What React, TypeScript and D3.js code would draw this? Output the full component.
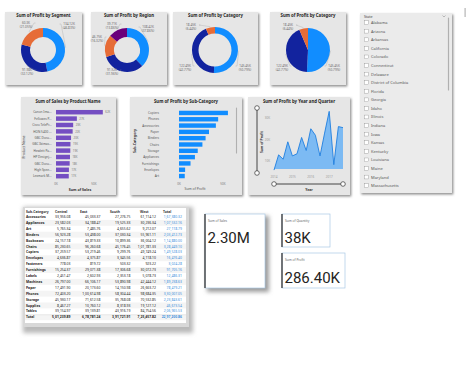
import React from 'react';
import * as d3 from 'd3';

// ---------- DATA ----------
const segments = ['Consumer', 'Corporate', 'Home Office'];
const segmentProfit = [134119.21, 91979.13, 60298.68];

const regions = ['West', 'East', 'South', 'Central'];
const regionProfit = [108418.45, 91522.78, 46749.43, 39706.36];

const categories = ['Technology', 'Office Supplies', 'Furniture'];
const categoryProfit = [145454.95, 122490.8, 18451.27];

const productNames = ['Canon Ima...', 'Fellowes P...', 'Cisco TelePr...', 'HON 5400 ...', 'GBC Docu...', 'GBC Ibimas...', 'Hewlett Pa...', 'HP Designj...', 'GBC Docu...', 'High Spee...', 'Lexmark M...'];
const productSales = [61.6, 27.45, 22.6, 21.9, 19.8, 19.0, 18.8, 18.4, 18.0, 17.0, 16.8];

const subCats = ['Copiers', 'Phones', 'Accessories', 'Paper', 'Binders', 'Chairs', 'Storage', 'Appliances', 'Furnishings', 'Envelopes', 'Art'];
const subCatProfit = [55.6, 44.5, 41.9, 34.1, 30.2, 26.6, 21.3, 18.1, 13.1, 6.96, 6.53];

const quarters = ['2014Q1', '2014Q2', '2014Q3', '2014Q4', '2015Q1', '2015Q2', '2015Q3', '2015Q4', '2016Q1', '2016Q2', '2016Q3', '2016Q4', '2017Q1', '2017Q2', '2017Q3', '2017Q4'];
const quarterProfit = [6, 13, 11, 19, 12.5, 13.5, 21, 15, 25, 22, 12.5, 23, 33, 8.5, 26, 25.5];
const yearTicks = ['2014', '2015', '2016', '2017'];
const profitTicks = [10, 20, 30];

const states = ['Alabama', 'Arizona', 'Arkansas', 'California', 'Colorado', 'Connecticut', 'Delaware', 'District of Columbia', 'Florida', 'Georgia', 'Idaho', 'Illinois', 'Indiana', 'Iowa', 'Kansas', 'Kentucky', 'Louisiana', 'Maine', 'Maryland', 'Massachusetts'];

const tableHeaders = ['Sub-Category', 'Central', 'East', 'South', 'West', 'Total'];
const tableCats = ['Accessories', 'Appliances', 'Art', 'Binders', 'Bookcases', 'Chairs', 'Copiers', 'Envelopes', 'Fasteners', 'Furnishings', 'Labels', 'Machines', 'Paper', 'Phones', 'Storage', 'Supplies', 'Tables', 'Total'];
const centralSales = [33956.08, 23582.03, 5765.34, 56923.28, 24157.18, 85230.65, 37259.57, 4636.87, 778.03, 15254.37, 2451.47, 26797.0, 17491.9, 72403.2, 45930.17, 8467.27, 39154.97, 501239.89];
const eastSales = [45033.37, 34188.47, 7485.76, 53498.0, 43819.33, 96260.68, 53219.46, 4375.87, 819.72, 29071.38, 2602.93, 66106.17, 20173.6, 100614.98, 71612.58, 10760.12, 39139.81, 678781.24];
const southSales = [27276.75, 19525.33, 4655.62, 37030.34, 10899.36, 45176.45, 9299.76, 3345.56, 503.32, 17306.68, 2353.18, 53890.98, 14150.98, 58304.44, 35768.08, 8318.93, 43916.19, 391721.91];
const westSales = [61114.12, 30236.34, 9212.07, 55961.11, 36004.12, 101781.33, 49749.24, 4118.1, 923.22, 30072.73, 5078.73, 42444.12, 26663.72, 98684.35, 70532.85, 19127.12, 84754.56, 725457.82];
const totalSales = [167380.32, 107532.16, 27118.79, 203412.73, 114880.0, 328449.1, 149528.03, 16476.4, 3024.28, 91705.16, 12486.31, 189238.63, 78479.21, 330007.05, 223843.61, 46673.54, 206965.53, 2297200.86];

const kpiSales = 2.3; // M
const kpiQuantity = 38; // K
const kpiProfit = 286.4; // K

// ---------- STYLE ----------
const FONT = "'Noto Sans', 'Open Sans', sans-serif";
const KFONT = "Roboto, 'Noto Sans', sans-serif";
const C_LIGHT = '#118DFF';
const C_DARK = '#12239E';
const C_ORANGE = '#E66C37';
const C_PURPLE = '#6B007B';
const C_BAR = '#744EC2';
const PANEL = '#e6e6e6';

function fmtIN(v: number) {
  const [i, d] = v.toFixed(2).split('.');
  let last3 = i.slice(-3);
  let rest = i.slice(0, -3);
  if (rest) last3 = ',' + last3;
  rest = rest.replace(/\B(?=(\d{2})+(?!\d))/g, ',');
  return rest + last3 + '.' + d;
}

function fmtK(v: number) {
  const s = (v / 1000).toFixed(2).replace(/0+$/, '').replace(/\.$/, '');
  return s + 'K';
}

function Panel({ x, y, w, h, fill = PANEL }: any) {
  return (
    <g>
      <rect x={x + 1.3} y={y + 1.5} width={w} height={h} fill="#8f8f8f" filter="url(#sh)" />
      <rect x={x} y={y} width={w} height={h} fill={fill} />
    </g>
  );
}

function Title({ x, y, text }: any) {
  return (
    <text x={x} y={y} textAnchor="middle" fontFamily={FONT} fontWeight={700} fontSize={4.3} fill="#252423">
      {text}
    </text>
  );
}

function Donut({ cx, cy, values, colors, rOuter, rInner, labelPos, single }: any) {
  const total = d3.sum(values as number[]);
  const arcs = d3.pie<number>().sort(null).value((d) => d)(values);
  const arc = d3.arc<any>().outerRadius(rOuter).innerRadius(rInner);
  return (
    <g transform={`translate(${cx},${cy})`}>
      {arcs.map((a, i) => (
        <path key={i} d={arc(a) as string} fill={colors[i]} />
      ))}
      {arcs.map((a, i) => {
        const mid = (a.startAngle + a.endAngle) / 2;
        const [dx, dy] = labelPos[i];
        const sx = Math.sin(mid) * (rOuter + 0.8);
        const sy = -Math.cos(mid) * (rOuter + 0.8);
        const side = dx < 0 ? 1 : -1;
        const ex = dx + side * (single ? 13 : 8);
        const ey = dy - 1;
        const val = fmtK(values[i]);
        const pct = '(' + ((values[i] / total) * 100).toFixed(2) + '%)';
        return (
          <g key={'l' + i}>
            <polyline points={`${sx},${sy} ${ex},${ey} ${ex + side * 1.5},${ey}`} fill="none" stroke="#9a9a9a" strokeWidth={0.3} />
            {single ? (
              <text x={dx} y={dy} textAnchor="middle" fontFamily={FONT} fontSize={3.1} fill="#666">{val + ' ' + pct}</text>
            ) : (
              <g>
                <text x={dx} y={dy} textAnchor="middle" fontFamily={FONT} fontSize={3.1} fill="#666">{val}</text>
                <text x={dx} y={dy + 4} textAnchor="middle" fontFamily={FONT} fontSize={3.1} fill="#666">{pct}</text>
              </g>
            )}
          </g>
        );
      })}
    </g>
  );
}

export default function App() {
  // Product bar chart
  const px = d3.scaleLinear().domain([0, 50]).range([56, 94]);
  const py = d3.scaleBand<string>().domain(productNames.map((d, i) => i + d)).range([109, 179.4]).paddingInner(0.3).paddingOuter(0.15);
  // Sub-category bar chart
  const sx = d3.scaleLinear().domain([0, 50]).range([179, 223]);
  const sy = d3.scaleBand<string>().domain(subCats).range([109.8, 179.2]).paddingInner(0.3).paddingOuter(0.15);
  // Area chart
  const lx = d3.scalePoint<string>().domain(quarters).range([274, 343]);
  const ly = d3.scaleLinear().domain([6.5, 35]).range([169, 107]);
  const area = d3.area<number>().x((d, i) => lx(quarters[i]) as number).y0(ly(6.5)).y1((d) => ly(d));
  const line = d3.line<number>().x((d, i) => lx(quarters[i]) as number).y((d) => ly(d));

  // table layout
  const rowY0 = 218;
  const rowStep = 5.9;
  const headerX = [26, 55, 80, 110, 140, 163];
  const valueRight = [0, 70.5, 100.5, 130.5, 156, 182];
  const cols = [centralSales, eastSales, southSales, westSales, totalSales];

  return (
    <svg width={474} height={370} style={{ position: 'absolute', left: 0, top: 0, background: '#fff' }} xmlns="http://www.w3.org/2000/svg">
      <defs>
        <filter id="sh" x="-20%" y="-20%" width="140%" height="140%">
          <feGaussianBlur stdDeviation="1" />
        </filter>
        <filter id="sh2" x="-20%" y="-20%" width="140%" height="140%">
          <feGaussianBlur stdDeviation="2" />
        </filter>
      </defs>
      <rect x={0} y={0} width={474} height={370} fill="#fff" />

      {/* ---------- Top row donuts ---------- */}
      <Panel x={5} y={12} w={77} h={73} />
      <Title x={43.5} y={17} text="Sum of Profit by Segment" />
      <Donut cx={43} cy={50} values={segmentProfit} colors={[C_LIGHT, C_DARK, C_ORANGE]} rOuter={22} rInner={13}
        labelPos={[[26, 25 - 50], [-16, 71 - 50], [-17, 24 - 50]]} />

      <Panel x={91} y={12} w={76} h={73} />
      <Title x={129} y={17} text="Sum of Profit by Region" />
      <Donut cx={127} cy={50} values={regionProfit} colors={[C_LIGHT, C_DARK, C_ORANGE, C_PURPLE]} rOuter={22} rInner={13}
        labelPos={[[21, 28 - 50], [-15, 71 - 50], [-30, 38 - 50], [-15, 25 - 50]]} />

      <Panel x={173} y={12} w={85} h={73} />
      <Title x={215.5} y={17} text="Sum of Profit by Category" />
      <Donut cx={215} cy={50} values={categoryProfit} colors={[C_LIGHT, C_DARK, C_ORANGE]} rOuter={23} rInner={16.5}
        labelPos={[[30, 17], [-30, 17], [-24, -24]]} single={false} />

      <Panel x={270} y={12} w={76} h={73} />
      <Title x={308} y={17} text="Sum of Profit by Category" />
      <Donut cx={308} cy={50} values={categoryProfit} colors={[C_LIGHT, C_DARK, C_ORANGE]} rOuter={22} rInner={0}
        labelPos={[[26, 17], [-26, 17], [-20, -24]]} single={false} />

      {/* ---------- State slicer ---------- */}
      <Panel x={360} y={13} w={92} h={180} fill="#ebebeb" />
      <text x={364} y={17.5} fontFamily={FONT} fontSize={3.6} fill="#444">State</text>
      <path d="M442.5,15.5 L444,17 L445.5,15.5" fill="none" stroke="#666" strokeWidth={0.4} />
      <line x1={448.5} y1={18} x2={448.5} y2={90} stroke="#b0b0b0" strokeWidth={1.2} strokeLinecap="round" />
      {states.map((s, i) => {
        const y = 23.5 + i * 8.58;
        return (
          <g key={s}>
            <rect x={364.5} y={y - 2.8} width={3.8} height={3.8} fill="#fff" stroke="#888" strokeWidth={0.35} />
            <text x={371} y={y + 0.6} fontFamily={FONT} fontSize={4} fill="#555">{s}</text>
          </g>
        );
      })}
      <rect x={464.5} y={8} width={1.2} height={9} fill="#b5b5b5" />

      {/* ---------- Product bar chart ---------- */}
      <Panel x={21} y={97} w={95} h={98} />
      <Title x={68} y={103} text="Sum of Sales by Product Name" />
      <text transform="translate(25,147) rotate(-90)" textAnchor="middle" fontFamily={FONT} fontSize={3.4} fill="#444">Product Name</text>
      {productNames.map((n, i) => {
        const y = py(i + n) as number;
        const bh = py.bandwidth();
        return (
          <g key={i}>
            <text x={51.5} y={y + bh / 2 + 1.1} textAnchor="end" fontFamily={FONT} fontSize={3.1} fill="#555">{n}</text>
            <rect x={px(0)} y={y} width={px(productSales[i]) - px(0)} height={bh} fill={C_BAR} />
            <text x={px(productSales[i]) + 2.5} y={y + bh / 2 + 1.1} fontFamily={FONT} fontSize={2.8} fill="#777">{Math.round(productSales[i]) + 'K'}</text>
          </g>
        );
      })}
      {[0, 50].map((t) => (
        <text key={t} x={px(t)} y={185} textAnchor="middle" fontFamily={FONT} fontSize={3} fill="#777">{t + 'K'}</text>
      ))}
      <text x={80} y={190.5} textAnchor="middle" fontFamily={FONT} fontWeight={700} fontSize={3.6} fill="#333">Sum of Sales</text>

      {/* ---------- Sub-category bar chart ---------- */}
      <Panel x={130} y={97} w={112} h={98} />
      <Title x={186} y={103} text="Sum of Profit by Sub-Category" />
      <text transform="translate(136,141) rotate(-90)" textAnchor="middle" fontFamily={FONT} fontWeight={700} fontSize={3.6} fill="#333">Sub-Category</text>
      {subCats.map((c, i) => {
        const y = sy(c) as number;
        const bh = sy.bandwidth();
        return (
          <g key={c}>
            <text x={159} y={y + bh / 2 + 1.1} textAnchor="end" fontFamily={FONT} fontSize={3.1} fill="#555">{c}</text>
            <rect x={sx(0)} y={y} width={sx(subCatProfit[i]) - sx(0)} height={bh} fill={C_LIGHT} />
          </g>
        );
      })}
      <line x1={236.5} y1={108} x2={236.5} y2={153} stroke="#b0b0b0" strokeWidth={1.1} strokeLinecap="round" />
      {[0, 50].map((t) => (
        <text key={t} x={sx(t)} y={185} textAnchor="middle" fontFamily={FONT} fontSize={3} fill="#777">{t + 'K'}</text>
      ))}
      <text x={195} y={190} textAnchor="middle" fontFamily={FONT} fontSize={3.4} fill="#555">Sum of Profit</text>

      {/* ---------- Area chart ---------- */}
      <Panel x={248} y={97} w={102} h={98} />
      <Title x={299} y={102.5} text="Sum of Profit by Year and Quarter" />
      {profitTicks.map((t) => (
        <text key={t} x={270} y={ly(t) + 1} textAnchor="end" fontFamily={FONT} fontSize={3} fill="#999">{t + 'K'}</text>
      ))}
      <path d={area(quarterProfit) as string} fill={C_LIGHT} fillOpacity={0.5} />
      <path d={line(quarterProfit) as string} fill="none" stroke="#1f7fe0" strokeWidth={0.9} strokeLinejoin="round" />
      {yearTicks.map((t, i) => (
        <text key={t} x={lx(quarters[i * 4]) as number} y={177.5} textAnchor="middle" fontFamily={FONT} fontSize={3} fill="#999">{t}</text>
      ))}
      <line x1={257} y1={108} x2={257} y2={173} stroke="#333" strokeWidth={0.9} />
      <circle cx={257} cy={108} r={2.3} fill="#fff" stroke="#333" strokeWidth={0.7} />
      <circle cx={257} cy={173} r={2.3} fill="#fff" stroke="#333" strokeWidth={0.7} />
      <line x1={274} y1={184} x2={343} y2={184} stroke="#333" strokeWidth={0.9} />
      <circle cx={274} cy={184} r={2.3} fill="#fff" stroke="#333" strokeWidth={0.7} />
      <circle cx={343} cy={184} r={2.3} fill="#fff" stroke="#333" strokeWidth={0.7} />
      <text transform="translate(262.5,142) rotate(-90)" textAnchor="middle" fontFamily={FONT} fontWeight={700} fontSize={3.4} fill="#333">Sum of Profit</text>
      <text x={309} y={191} textAnchor="middle" fontFamily={FONT} fontWeight={700} fontSize={3.4} fill="#333">Year</text>

      {/* ---------- Table ---------- */}
      <rect x={23} y={207} width={170} height={126} fill="#b9b9b9" filter="url(#sh2)" />
      <rect x={23} y={207} width={166} height={120} fill="#d8d8d8" />
      <rect x={25} y={208} width={161} height={115} fill="#fff" />
      {tableCats.map((c, i) => (
        i % 2 === 1 ? <rect key={'s' + i} x={25} y={rowY0 + i * rowStep - 4} width={161} height={rowStep} fill="#f4f4f4" /> : null
      ))}
      <line x1={25} y1={rowY0 + 16.5 * rowStep - 0.6} x2={186} y2={rowY0 + 16.5 * rowStep - 0.6} stroke="#ccc" strokeWidth={0.3} />
      {tableHeaders.map((h, j) => (
        <text key={h} x={headerX[j]} y={212.5} fontFamily={FONT} fontWeight={700} fontSize={3.4} fill="#333">{h}</text>
      ))}
      {tableCats.map((c, i) => {
        const y = rowY0 + i * rowStep;
        const bold = c === 'Total';
        return (
          <g key={c}>
            <text x={26} y={y} fontFamily={FONT} fontWeight={700} fontSize={3.4} fill="#252423">{c}</text>
            {cols.map((col, j) => (
              <text key={j} x={valueRight[j + 1]} y={y} textAnchor="end" fontFamily={FONT} fontWeight={bold ? 700 : 400} fontSize={3.4}
                fill={j === 4 ? '#3b8fdc' : '#252423'}>{fmtIN(col[i])}</text>
            ))}
          </g>
        );
      })}

      {/* ---------- KPI cards ---------- */}
      <rect x={207} y={216} width={62} height={76} fill="#9d9d9d" filter="url(#sh2)" />
      <rect x={205} y={214} width={60} height={74} fill="#fff" stroke="#a9c8e6" strokeWidth={0.7} />
      <line x1={205} y1={214} x2={205} y2={288} stroke="#333" strokeWidth={1.3} />
      <text x={208} y={222} fontFamily={FONT} fontSize={3.2} fill="#666">Sum of Sales</text>
      <text x={207.5} y={242.5} fontFamily={KFONT} fontSize={15} fill="#252423">{kpiSales.toFixed(2) + 'M'}</text>

      <rect x={282} y={214} width={48} height={33} fill="#fff" stroke="#a9c8e6" strokeWidth={0.7} />
      <line x1={282} y1={214} x2={282} y2={247} stroke="#333" strokeWidth={1.3} />
      <text x={285} y={222} fontFamily={FONT} fontSize={3.2} fill="#666">Sum of Quantity</text>
      <text x={284.5} y={242.5} fontFamily={KFONT} fontSize={15} fill="#252423">{kpiQuantity + 'K'}</text>

      <rect x={282} y={253} width={63} height={35} fill="#fff" stroke="#a9c8e6" strokeWidth={0.7} />
      <line x1={282} y1={253} x2={282} y2={288} stroke="#333" strokeWidth={1.3} />
      <text x={285} y={261} fontFamily={FONT} fontSize={3.2} fill="#666">Sum of Profit</text>
      <text x={284.5} y={283} fontFamily={KFONT} fontSize={15} fill="#252423">{kpiProfit.toFixed(2) + 'K'}</text>
    </svg>
  );
}
